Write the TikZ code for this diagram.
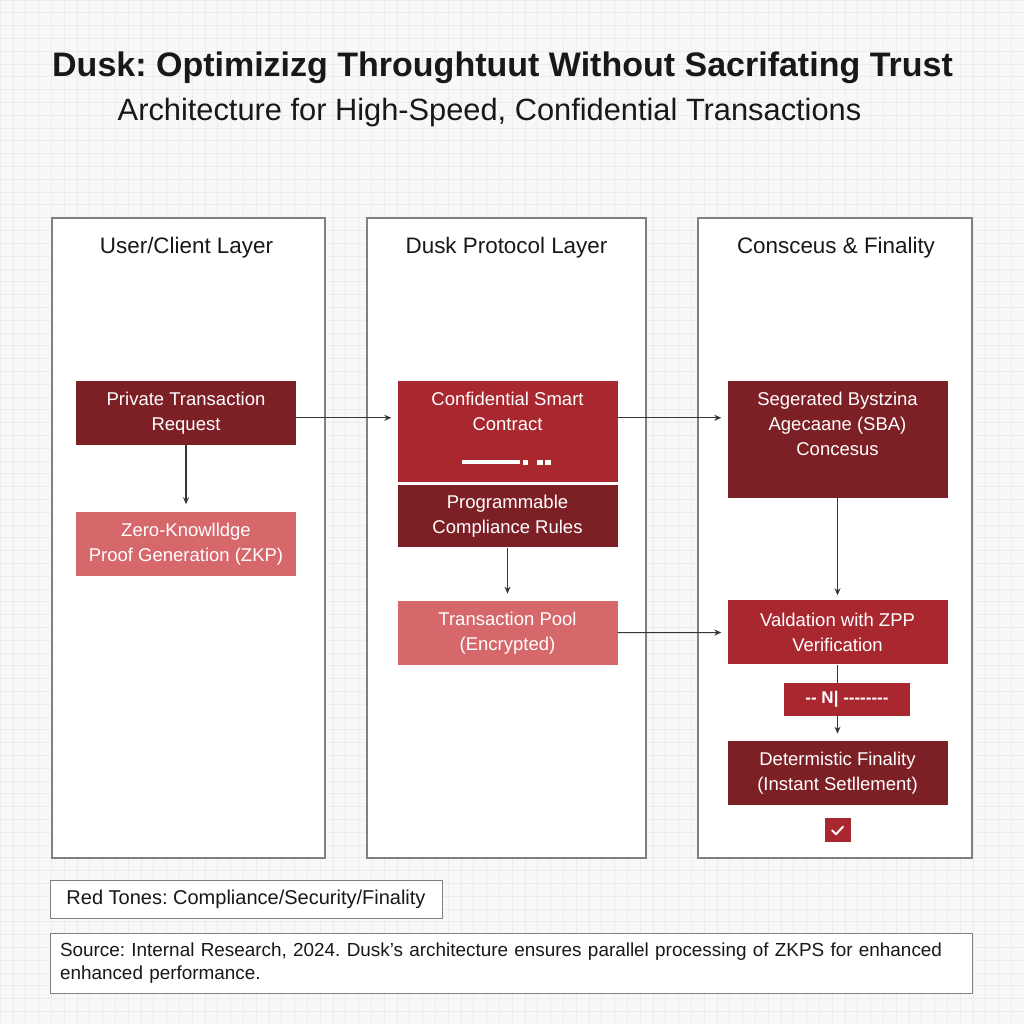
\documentclass[tikz,border=0pt]{standalone}
\usepackage{fontspec}
\setmainfont{Liberation Sans}
\usepackage{xcolor}
\usetikzlibrary{arrows.meta, positioning, calc}
\frenchspacing

\definecolor{duskdark}{RGB}{125,32,37}
\definecolor{duskred}{RGB}{169,39,47}
\definecolor{dusklight}{RGB}{214,103,107}
\definecolor{paper}{RGB}{248,248,248}
\definecolor{gridgray}{RGB}{236,236,236}
\definecolor{edgegray}{RGB}{128,128,128}
\definecolor{arrgray}{RGB}{55,55,55}
\definecolor{inkblack}{RGB}{24,24,24}

\begin{document}
\begin{tikzpicture}[
  x=1pt, y=-1pt,
  panel/.style={draw=edgegray, line width=1.2pt, fill=white, minimum width=#1,
                minimum height=640pt, inner sep=0pt},
  head/.style={font=\fontsize{22.4}{26}\selectfont, text=inkblack, inner sep=0pt},
  box/.style={minimum width=220pt, minimum height=64pt, align=center, text=white,
              inner sep=0pt, font=\fontsize{18.5}{25}\selectfont},
  note/.style={draw=edgegray, line width=1pt, fill=white, text=inkblack},
  arr/.style={-{Stealth[length=7pt, width=6pt]}, line width=1.1pt, draw=arrgray},
  link/.style={line width=1.1pt, draw=arrgray}
]
  % page, grid
  \useasboundingbox (0,0) rectangle (1024,1024);
  \fill[paper] (0,0) rectangle (1024,1024);
  \draw[gridgray, line width=0.6pt, xstep=12.8pt, ystep=12.8pt] (0,0) grid (1024,1024);

  % titles
  \node[font=\bfseries\fontsize{34}{40}\selectfont, text=inkblack] (title) at (502.5,68)
    {Dusk: Optimizizg Throughtuut Without Sacrifating Trust};
  \node[font=\fontsize{30.8}{36}\selectfont, text=inkblack] (subtitle) at (489.5,113)
    {Architecture for High-Speed, Confidential Transactions};

  % columns
  \node[panel=273pt] (userCol)  at (188.5,538) {};
  \node[panel=279pt] (protoCol) at (506.5,538) {};
  \node[panel=274pt] (consCol)  at (835,538)   {};

  \node[head] (userHead)  at (186.5,248) {User/Client Layer};
  \node[head] (protoHead) at (506.5,248) {Dusk Protocol Layer};
  \node[head] (consHead)  at (836,248)   {Consceus \& Finality};

  % user/client layer
  \node[box, fill=duskdark] (ptx) at (186,413) {Private Transaction\\Request};
  \node[box, fill=dusklight, below=67pt of ptx] (zkp) {Zero-Knowlldge\\Proof Generation (ZKP)};

  % protocol layer
  \node[box, fill=duskred, minimum height=101pt, text depth=40pt] (conf) at (507.5,431.5)
    {Confidential Smart\\Contract};
  \node[box, fill=duskdark, minimum height=62pt, below=3pt of conf] (prog)
    {Programmable\\Compliance Rules};
  \node[box, fill=dusklight, below=53pt of prog] (pool) {Transaction Pool\\(Encrypted)};

  \draw[white, line width=4pt] (462,462) -- (520,462);
  \fill[white] (523,459.5) rectangle (528,464.5);
  \fill[white] (537,459.5) rectangle (543,464.5);
  \fill[white] (545,459.5) rectangle (551,464.5);

  % consensus layer
  \node[box, fill=duskdark, minimum height=117pt, text depth=31pt] (sba) at (837.5,439.5)
    {Segerated Bystzina\\Agecaane (SBA)\\Concesus};
  \node[box, fill=duskred, below=102pt of sba] (valid) {Valdation with ZPP\\Verification};
  \node[fill=duskred, minimum width=126pt, minimum height=33pt, inner sep=0pt, text=white,
        font=\bfseries\fontsize{17}{17}\selectfont] (tiny) at (847,699.5)
    {-{}- N| -{}-{}-{}-{}-{}-{}-{}-};
  \node[box, fill=duskdark, below=76pt of valid] (determ)
    {Determistic Finality\\(Instant Setllement)};
  \node[fill=duskred, minimum width=26pt, minimum height=24pt, inner sep=0pt,
        below=13pt of determ] (tick) {};
  \draw[white, line width=2pt, line cap=round, line join=round]
    ($(tick)+(-5.5,0)$) -- ($(tick)+(-1.5,4)$) -- ($(tick)+(5.5,-3.5)$);

  % connectors
  \draw[arr, shorten >=8pt] (ptx) -- (zkp);
  \draw[arr, shorten >=6pt] ([yshift=-37pt]ptx.north east) -- ([yshift=-37pt]ptx.north east -| conf.west);
  \draw[arr, shorten >=6pt] ([yshift=-37pt]conf.north east) -- ([yshift=-37pt]conf.north east -| sba.west);
  \draw[arr, shorten >=7pt] (prog) -- (pool);
  \draw[arr, shorten >=6pt] (pool) -- (valid);
  \draw[arr, shorten >=5pt] (sba) -- (valid);
  \draw[link] (valid.south) -- (valid.south |- tiny.north);
  \draw[arr, shorten >=7pt] (valid.south |- tiny.south) -- (determ.north);

  % legend and source
  \node[note, minimum width=392pt, minimum height=38pt, font=\fontsize{20}{24}\selectfont]
    (legend) at (246,899) {Red Tones: Compliance/Security/Finality};
  \node[note, text width=902pt, minimum height=59pt, inner sep=10pt, align=left,
        font=\fontsize{18.9}{23}\selectfont] (source) at (511,963.5)
    {Source: Internal Research, 2024. Dusk’s architecture ensures parallel processing of ZKPS for enhanced\\
     enhanced performance.};
\end{tikzpicture}
\end{document}
